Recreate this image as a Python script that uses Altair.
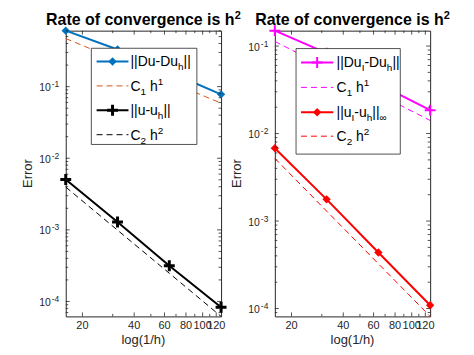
import altair as alt
import pandas as pd

# ---------------- data ----------------
n_vals = [16, 32, 64, 128]

# left panel
left_Du = [0.605, 0.33, 0.16, 0.078]          # ||Du-Du_h||
left_C1h = [0.47, 0.235, 0.1175, 0.0588]      # C1 h^1
left_u = [0.00506, 0.00129, 0.000316, 0.000083]  # ||u-u_h||
left_C2h2 = [0.00396, 0.00099, 0.000248, 0.0000619]  # C2 h^2

# right panel
right_DuI = [0.150, 0.083, 0.037, 0.0185]     # ||Du_I-Du_h||
right_C1h = [0.113, 0.0565, 0.0283, 0.0141]   # C1 h^1
right_uI = [0.0068, 0.00177, 0.000437, 0.000109]  # ||u_I-u_h||_inf
right_C2h2 = [0.0052, 0.0013, 0.000325, 0.0000813]  # C2 h^2

x_major = [20, 40, 60, 80, 100, 120]
x_minor = [30, 50, 70, 90, 110]
x_labels = ["20", "40", "60", "80", "100", "120"]
y_decades = [1e-4, 1e-3, 1e-2, 1e-1]
y_exps = ["-4", "-3", "-2", "-1"]

left_ydomain = [0.0000619, 0.605]
right_ydomain = [0.0000813, 0.150]
x_domain = [16, 128]

title_main = "Rate of convergence is h"
title_sup = "2"
x_title = "log(1/h)"
y_title = "Error"

# ---------------- style ----------------
FONT = "Liberation Sans"
AX = "#262626"
W, H = 156, 287
BLUE = "#0072BD"
ORANGE = "#D95319"
MAGENTA = "#FF00FF"
RED = "#FF0000"
PLUS = "M-1,0L1,0M0,-1L0,1"

REG = {'|': 260, 'D': 722, 'u': 556, '-': 333, 'h': 556, 'C': 722, ' ': 278,
       '1': 556, '2': 556, 'I': 278, '\u221e': 713}
BOLD = {'R': 722, 'a': 556, 't': 333, 'e': 556, 'o': 611, 'f': 333, 'c': 556,
        'n': 611, 'v': 556, 'r': 389, 'g': 611, 'i': 278, 's': 556, 'h': 611,
        ' ': 278, '2': 556}


def tw(s, size, bold=False):
    tab = BOLD if bold else REG
    return sum(tab.get(c, 556) for c in s) * size / 1000.0


one = pd.DataFrame({"a": [0]})


def text_piece(txt, x, y, size, bold=False, color="black", align="left",
               baseline="alphabetic", angle=None):
    kw = dict(align=align, baseline=baseline, font=FONT, fontSize=size,
              fontWeight="bold" if bold else "normal", color=color)
    if angle is not None:
        kw["angle"] = angle
    return alt.Chart(pd.DataFrame({"t": [txt]})).mark_text(**kw).encode(
        x=alt.value(x), y=alt.value(y), text="t:N")


def rich(pieces, x0, ybase, size_n=14, size_s=10, bold=False, color="black"):
    out = []
    x = x0
    for txt, kind in pieces:
        if kind == "gap":
            x += tw(txt, size_n, bold)
            continue
        fs = size_n if kind == "n" else size_s
        dy = 0 if kind == "n" else (4 if kind == "sub" else -6)
        out.append(text_piece(txt, x, ybase + dy, fs, bold, color))
        x += tw(txt, fs, bold)
    return out


def panel(series, ydomain, legend_box, legend_rows, legend_line, text_x,
          labels, anchor):
    xs = alt.Scale(type="log", domain=x_domain, nice=False, zero=False)
    ys = alt.Scale(type="log", domain=ydomain, nice=False, zero=False)
    layers = []
    # invisible anchor fixing the panel's outer extent
    layers.append(alt.Chart(one).mark_rect(opacity=0).encode(
        x=alt.value(anchor[0]), x2=alt.value(anchor[1]),
        y=alt.value(anchor[2]), y2=alt.value(anchor[3])))

    # data lines and markers
    for s in series:
        df = pd.DataFrame({"n": n_vals, "e": s["y"]})
        base = alt.Chart(df).encode(
            x=alt.X("n:Q", scale=xs, axis=None),
            y=alt.Y("e:Q", scale=ys, axis=None))
        lk = dict(color=s["color"], strokeWidth=s["width"])
        if s.get("dash"):
            lk["strokeDash"] = s["dash"]
        layers.append(base.mark_line(**lk))
        if s.get("shape"):
            if s["shape"] == "plus":
                layers.append(base.mark_point(shape=PLUS, size=s["msize"],
                                              filled=False, color=s["color"],
                                              strokeWidth=s["mstroke"], opacity=1))
            else:
                layers.append(base.mark_point(shape=s["shape"], size=s["msize"],
                                              filled=True, color=s["color"],
                                              opacity=1))

    # ticks (inward, on all four sides)
    def xticks(vals, ln):
        d = alt.Chart(pd.DataFrame({"n": vals}))
        return [
            d.mark_rule(color=AX, strokeWidth=0.8).encode(
                x=alt.X("n:Q", scale=xs, axis=None), y=alt.value(H), y2=alt.value(H - ln)),
            d.mark_rule(color=AX, strokeWidth=0.8).encode(
                x=alt.X("n:Q", scale=xs, axis=None), y=alt.value(0), y2=alt.value(ln)),
        ]

    def yticks(vals, ln):
        d = alt.Chart(pd.DataFrame({"e": vals}))
        return [
            d.mark_rule(color=AX, strokeWidth=0.8).encode(
                y=alt.Y("e:Q", scale=ys, axis=None), x=alt.value(0), x2=alt.value(ln)),
            d.mark_rule(color=AX, strokeWidth=0.8).encode(
                y=alt.Y("e:Q", scale=ys, axis=None), x=alt.value(W), x2=alt.value(W - ln)),
        ]

    y_minor = [m * d for d in [1e-5] + y_decades + [1.0] for m in range(2, 10)
               if ydomain[0] <= m * d <= ydomain[1]]
    dec_in = [d for d in y_decades if ydomain[0] <= d <= ydomain[1]]
    layers += xticks(x_major, 4) + xticks(x_minor, 2.5)
    layers += yticks(dec_in, 4) + yticks(y_minor, 2.5)

    # tick labels
    xl = pd.DataFrame({"n": x_major, "t": x_labels})
    layers.append(alt.Chart(xl).mark_text(
        align="center", baseline="alphabetic", font=FONT, fontSize=11, color=AX
    ).encode(x=alt.X("n:Q", scale=xs, axis=None), y=alt.value(H + 13), text="t:N"))
    yl = pd.DataFrame({"e": y_decades, "b": ["10"] * len(y_decades), "s": y_exps})
    yl = yl[(yl.e >= ydomain[0]) & (yl.e <= ydomain[1])]
    layers.append(alt.Chart(yl).mark_text(
        align="right", baseline="alphabetic", font=FONT, fontSize=10.5, color=AX, dy=4.5
    ).encode(y=alt.Y("e:Q", scale=ys, axis=None), x=alt.value(-15), text="b:N"))
    layers.append(alt.Chart(yl).mark_text(
        align="right", baseline="alphabetic", font=FONT, fontSize=8.5, color=AX, dy=0.5
    ).encode(y=alt.Y("e:Q", scale=ys, axis=None), x=alt.value(-6.5), text="s:N"))

    # axis titles
    layers.append(text_piece(x_title, W / 2, H + 27.5, 13, color=AX, align="center"))
    layers.append(text_piece(y_title, -38, H / 2, 13, color=AX, align="center",
                             baseline="middle", angle=270))

    # title
    tot = tw(title_main, 16, True) + tw(title_sup, 11, True)
    x0 = W / 2 - tot / 2
    layers.append(text_piece(title_main, x0, -5.5, 16, bold=True))
    layers.append(text_piece(title_sup, x0 + tw(title_main, 16, True), -12, 11, bold=True))

    # legend
    bx1, bx2, by1, by2 = legend_box
    layers.append(alt.Chart(one).mark_rect(fill="white", stroke=AX, strokeWidth=0.8).encode(
        x=alt.value(bx1), x2=alt.value(bx2), y=alt.value(by1), y2=alt.value(by2)))
    lx1, lx2 = legend_line
    for s, ry, lab in zip(series, legend_rows, labels):
        rk = dict(color=s["color"], strokeWidth=s["width"])
        if s.get("dash"):
            rk["strokeDash"] = s["dash"]
        layers.append(alt.Chart(one).mark_rule(**rk).encode(
            x=alt.value(lx1), x2=alt.value(lx2), y=alt.value(ry)))
        if s.get("shape"):
            if s["shape"] == "plus":
                layers.append(alt.Chart(one).mark_point(
                    shape=PLUS, size=s["msize"], filled=False, color=s["color"],
                    strokeWidth=s["mstroke"], opacity=1).encode(
                    x=alt.value((lx1 + lx2) / 2), y=alt.value(ry)))
            else:
                layers.append(alt.Chart(one).mark_point(
                    shape=s["shape"], size=s["msize"], filled=True, color=s["color"],
                    opacity=1).encode(x=alt.value((lx1 + lx2) / 2), y=alt.value(ry)))
        layers += rich(lab, text_x, ry + 5)

    return alt.layer(*layers).properties(width=W, height=H)


left_series = [
    dict(y=left_Du, color=BLUE, width=2, shape="diamond", msize=70),
    dict(y=left_C1h, color=ORANGE, width=1, dash=[6, 4]),
    dict(y=left_u, color="black", width=2, shape="plus", msize=120, mstroke=3),
    dict(y=left_C2h2, color="black", width=1, dash=[6, 4]),
]
right_series = [
    dict(y=right_DuI, color=MAGENTA, width=2, shape="plus", msize=120, mstroke=2),
    dict(y=right_C1h, color=MAGENTA, width=1, dash=[6, 4]),
    dict(y=right_uI, color=RED, width=2, shape="diamond", msize=70),
    dict(y=right_C2h2, color=RED, width=1, dash=[6, 4]),
]

left_labels = [
    [("||Du-Du", "n"), ("h", "sub"), ("||", "n")],
    [("C", "n"), ("1", "sub"), (" ", "gap"), ("h", "n"), ("1", "sup")],
    [("||u-u", "n"), ("h", "sub"), ("||", "n")],
    [("C", "n"), ("2", "sub"), (" ", "gap"), ("h", "n"), ("2", "sup")],
]
right_labels = [
    [("||Du", "n"), ("I", "sub"), ("-Du", "n"), ("h", "sub"), ("||", "n")],
    [("C", "n"), ("1", "sub"), (" ", "gap"), ("h", "n"), ("1", "sup")],
    [("||u", "n"), ("I", "sub"), ("-u", "n"), ("h", "sub"), ("||", "n"), ("\u221e", "sub")],
    [("C", "n"), ("2", "sub"), (" ", "gap"), ("h", "n"), ("2", "sup")],
]

left = panel(left_series, left_ydomain, (25.7, 131.7, 17.7, 114.3),
             [31, 55.5, 80, 104.5], (31, 63), 65, left_labels,
             (-57, W, -21, 315))
right = panel(right_series, right_ydomain, (21.3, 126, 18, 124),
              [32, 57, 82, 106], (26.3, 58.7), 62, right_labels,
              (0, 191, -21, 315))

chart = alt.hconcat(left, right, spacing=54, bounds="flush").properties(
    padding=0
).configure_view(stroke=AX, strokeWidth=1)

chart.save("out.html", embed_options={"renderer": "svg", "actions": False})
